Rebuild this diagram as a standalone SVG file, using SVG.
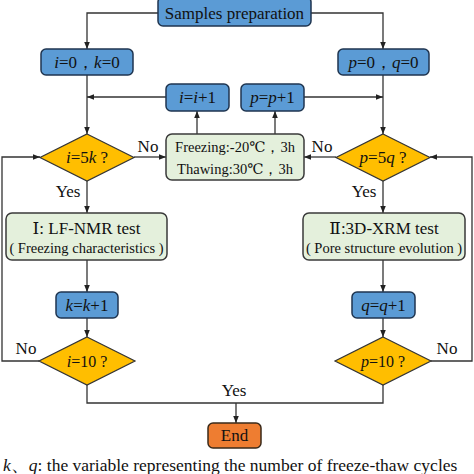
<svg xmlns="http://www.w3.org/2000/svg" width="474" height="474" viewBox="0 0 474 474">
<defs>
<style>
.blue{fill:#5B9BD5;stroke:#1F3550;stroke-width:1.5}
.dia{fill:#FFBE00;stroke:#333;stroke-width:1.2}
.green{fill:#E4F0DC;stroke:#3A3A3A;stroke-width:1.5}
.end{fill:#EE7D31;stroke:#3A2A1A;stroke-width:1.5}
.t{font-family:'Liberation Serif','Times New Roman','DejaVu Serif',serif;fill:#111;text-anchor:middle}
.c{font-family:'Liberation Serif','Times New Roman','DejaVu Serif',serif;fill:#111}
.ln{fill:none;stroke:#333;stroke-width:1.3}
</style>
<marker id="ah" viewBox="0 0 10 10" refX="10" refY="5" markerWidth="7" markerHeight="7" orient="auto" markerUnits="userSpaceOnUse">
<path d="M0,1 L10,5 L0,9 z" fill="#222"/>
</marker>
</defs>
<rect width="474" height="474" fill="#fff"/>
<g id="connectors" class="ln">
<path d="M158,13 H87 V49" marker-end="url(#ah)"/>
<path d="M311,13 H383 V49" marker-end="url(#ah)"/>
<path d="M87,75 V134" marker-end="url(#ah)"/>
<path d="M383,75 V134" marker-end="url(#ah)"/>
<path d="M166,97 H87" marker-end="url(#ah)"/>
<path d="M304,97 H383" marker-end="url(#ah)"/>
<path d="M197,134 V111" marker-end="url(#ah)"/>
<path d="M275,134 V111" marker-end="url(#ah)"/>
<path d="M134,157 H166" marker-end="url(#ah)"/>
<path d="M336,157 H304" marker-end="url(#ah)"/>
<path d="M87,181 V213" marker-end="url(#ah)"/>
<path d="M383,181 V213" marker-end="url(#ah)"/>
<path d="M87,260 V292" marker-end="url(#ah)"/>
<path d="M383,260 V292" marker-end="url(#ah)"/>
<path d="M87,318 V337" marker-end="url(#ah)"/>
<path d="M383,318 V337" marker-end="url(#ah)"/>
<path d="M39,361 H2 V157 H40" marker-end="url(#ah)"/>
<path d="M431,361 H472 V157 H430" marker-end="url(#ah)"/>
<path d="M87,385 V403 H383 V385"/>
<path d="M236,403 V423" marker-end="url(#ah)"/>
</g>
<g id="samples"><rect class="blue" x="158" y="-3" width="153" height="29" rx="5"/><text class="t" x="234.5" y="19" font-size="17">Samples preparation</text></g>
<g id="init-ik"><rect class="blue" x="41" y="49" width="92" height="26" rx="5"/><text class="t" x="87" y="68" font-size="17"><tspan font-style="italic">i</tspan>=0，<tspan font-style="italic">k</tspan>=0</text></g>
<g id="init-pq"><rect class="blue" x="338" y="49" width="91" height="26" rx="5"/><text class="t" x="383.5" y="68" font-size="17"><tspan font-style="italic">p</tspan>=0，<tspan font-style="italic">q</tspan>=0</text></g>
<g id="inc-i"><rect class="blue" x="166" y="84" width="63" height="27" rx="5"/><text class="t" x="197.5" y="103" font-size="17"><tspan font-style="italic">i</tspan>=<tspan font-style="italic">i</tspan>+1</text></g>
<g id="inc-p"><rect class="blue" x="241" y="84" width="63" height="27" rx="5"/><text class="t" x="272.5" y="103" font-size="17"><tspan font-style="italic">p</tspan>=<tspan font-style="italic">p</tspan>+1</text></g>
<g id="freeze"><rect class="green" x="166" y="134" width="138" height="46" rx="6"/><text class="t" x="235" y="152" font-size="14.5">Freezing:-20℃，3h</text><text class="t" x="235" y="174" font-size="14.5">Thawing:30℃，3h</text></g>
<g id="dec-i5k"><polygon class="dia" points="87,134 134,157.5 87,181 40,157.5"/><text class="t" x="87" y="163" font-size="17"><tspan font-style="italic">i</tspan>=5<tspan font-style="italic">k</tspan> ?</text></g>
<g id="dec-p5q"><polygon class="dia" points="383,134 430,157.5 383,181 336,157.5"/><text class="t" x="383" y="163" font-size="17"><tspan font-style="italic">p</tspan>=5<tspan font-style="italic">q</tspan> ?</text></g>
<g id="test1"><rect class="green" x="6" y="213" width="161" height="47" rx="6"/><text class="t" x="86.5" y="234" font-size="17">Ⅰ: LF-NMR test</text><text class="t" x="86.5" y="253" font-size="14.5">( Freezing characteristics )</text></g>
<g id="test2"><rect class="green" x="303" y="213" width="162" height="47" rx="6"/><text class="t" x="384" y="234" font-size="17">Ⅱ:3D-XRM test</text><text class="t" x="384" y="253" font-size="14.5">( Pore structure evolution )</text></g>
<g id="inc-k"><rect class="blue" x="56" y="292" width="62" height="26" rx="5"/><text class="t" x="87" y="311" font-size="17"><tspan font-style="italic">k</tspan>=<tspan font-style="italic">k</tspan>+1</text></g>
<g id="inc-q"><rect class="blue" x="352" y="292" width="63" height="26" rx="5"/><text class="t" x="383.5" y="311" font-size="17"><tspan font-style="italic">q</tspan>=<tspan font-style="italic">q</tspan>+1</text></g>
<g id="dec-i10"><polygon class="dia" points="87,337 135,361 87,385 39,361"/><text class="t" x="87" y="367" font-size="16"><tspan font-style="italic">i</tspan>=10 ?</text></g>
<g id="dec-p10"><polygon class="dia" points="383,337 431,361 383,385 335,361"/><text class="t" x="383" y="367" font-size="16"><tspan font-style="italic">p</tspan>=10 ?</text></g>
<g id="end"><rect class="end" x="208" y="423" width="53" height="25" rx="5"/><text class="t" x="234.5" y="441" font-size="17">End</text></g>
<g id="labels" class="t" font-size="17">
<text x="148" y="152">No</text>
<text x="322" y="152">No</text>
<text x="68" y="197">Yes</text>
<text x="364" y="197">Yes</text>
<text x="26" y="354">No</text>
<text x="447" y="354">No</text>
<text x="234" y="396">Yes</text>
</g>
<text class="c" x="3" y="471" font-size="17.5"><tspan font-style="italic">k</tspan>、<tspan font-style="italic">q</tspan>: the variable representing the number of freeze-thaw cycles</text>
</svg>
